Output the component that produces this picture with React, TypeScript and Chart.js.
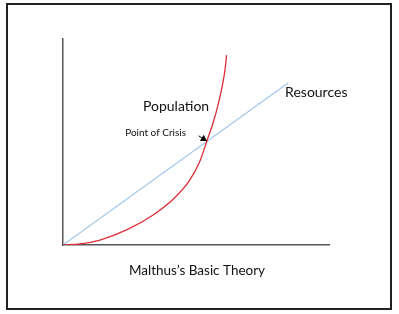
import React, { useEffect, useRef } from "react";
import { Chart, registerables } from "chart.js";

Chart.register(...registerables);

// Population curve (red)
const popX = [0, 6.4, 13.9, 23.9, 33.9, 41.5, 47.7, 51.5, 54.1, 56.4, 58.3, 59.8, 60.9, 61.5];
const popY = [0, 0.5, 2.4, 7.3, 14.6, 22.3, 31.6, 40.8, 50.5, 59.2, 68.0, 76.7, 85.0, 92.2];
// Resources line (blue)
const resX = [0, 84.6];
const resY = [0, 78.6];

const seriesNames = ["Population", "Resources"];
const chartTitle = "Malthus\u2019s Basic Theory";
const crisisLabel = "Point of Crisis";
// label anchor positions in data units
const popLabelAt = [42.5, 67.0];
const resLabelAt = [83.5, 73.8];
const crisisLabelAt = [34.8, 54.4];
const arrowFrom = [51.0, 53.0];
const arrowTo = [54.1, 50.5];

const FONT = "Lato, 'Open Sans', sans-serif";

const textPlugin = {
  id: "malthusText",
  afterDatasetsDraw(chart: any) {
    const { ctx, chartArea, scales } = chart;
    const xs = scales.x;
    const ys = scales.y;
    const px = (v: number) => xs.getPixelForValue(v);
    const py = (v: number) => ys.getPixelForValue(v);
    ctx.save();
    ctx.fillStyle = "#111";
    ctx.textBaseline = "middle";
    ctx.font = `14px ${FONT}`;
    ctx.textAlign = "center";
    ctx.fillText(seriesNames[0], px(popLabelAt[0]), py(popLabelAt[1]));
    ctx.textAlign = "left";
    ctx.fillText(seriesNames[1], px(resLabelAt[0]), py(resLabelAt[1]));
    ctx.font = `10px ${FONT}`;
    ctx.textAlign = "center";
    ctx.fillText(crisisLabel, px(crisisLabelAt[0]), py(crisisLabelAt[1]));
    ctx.font = `13.5px ${FONT}`;
    ctx.fillText(chartTitle, (chartArea.left + chartArea.right) / 2 + 1, chartArea.bottom + 26);

    // arrow
    const x1 = px(arrowFrom[0]), y1 = py(arrowFrom[1]);
    const x2 = px(arrowTo[0]), y2 = py(arrowTo[1]);
    ctx.strokeStyle = "#000";
    ctx.lineWidth = 1;
    ctx.beginPath();
    ctx.moveTo(x1, y1);
    ctx.lineTo(x2, y2);
    ctx.stroke();
    const ang = Math.atan2(y2 - y1, x2 - x1);
    const L = 7;
    ctx.fillStyle = "#000";
    ctx.beginPath();
    ctx.moveTo(x2, y2);
    ctx.lineTo(x2 - L * Math.cos(ang - 0.55), y2 - L * Math.sin(ang - 0.55));
    ctx.lineTo(x2 - L * Math.cos(ang + 0.55), y2 - L * Math.sin(ang + 0.55));
    ctx.closePath();
    ctx.fill();
    ctx.restore();
  },
};

export default function App() {
  const ref = useRef<HTMLCanvasElement | null>(null);
  useEffect(() => {
    if (!ref.current) return;
    const chart = new Chart(ref.current, {
      type: "line",
      data: {
        datasets: [
          {
            label: seriesNames[0],
            data: popX.map((x, i) => ({ x, y: popY[i] })),
            borderColor: "rgb(220,45,55)",
            borderWidth: 1.3,
            pointRadius: 0,
            cubicInterpolationMode: "monotone",
            fill: false,
          },
          {
            label: seriesNames[1],
            data: resX.map((x, i) => ({ x, y: resY[i] })),
            borderColor: "rgb(160,200,235)",
            borderWidth: 1.2,
            pointRadius: 0,
            fill: false,
          },
        ],
      },
      options: {
        responsive: false,
        animation: false,
        layout: { padding: { left: 55, right: 70, top: 39, bottom: 61 } },
        plugins: { legend: { display: false }, tooltip: { enabled: false }, title: { display: false } },
        scales: {
          x: {
            type: "linear",
            min: 0,
            max: 100,
            ticks: { display: false },
            grid: { display: false },
            border: { display: true, color: "#555", width: 1.5 },
          },
          y: {
            type: "linear",
            min: 0,
            max: 100,
            ticks: { display: false },
            grid: { display: false },
            border: { display: true, color: "#555", width: 1.5 },
          },
        },
      },
      plugins: [textPlugin],
    });
    return () => chart.destroy();
  }, []);
  return (
    <div style={{ position: "fixed", left: 0, top: 0, width: 399, height: 314, background: "#fff" }}>
      <canvas ref={ref} width={399} height={314} style={{ position: "absolute", left: 0, top: 0 }} />
      <div
        style={{
          position: "absolute",
          left: 6,
          top: 3,
          width: 382,
          height: 303,
          border: "2px solid #222",
          pointerEvents: "none",
        }}
      />
    </div>
  );
}
